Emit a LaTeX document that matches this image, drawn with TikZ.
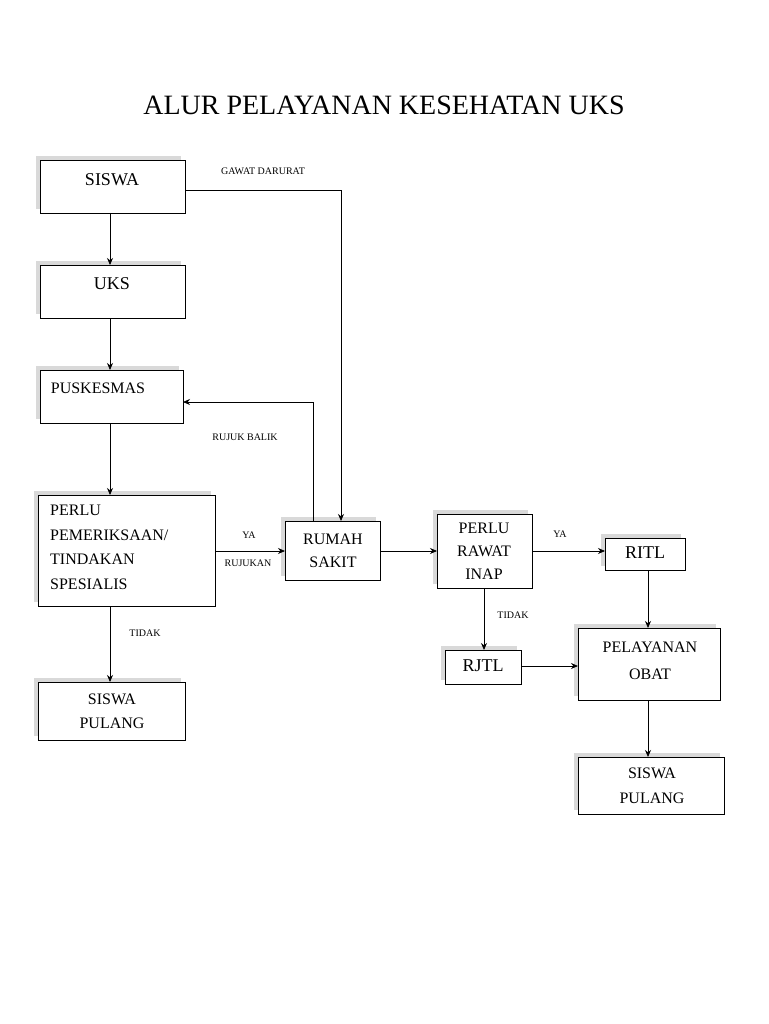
\documentclass[tikz,border=0pt]{standalone}
\usepackage{fontspec}
\setmainfont{Liberation Serif}
\usetikzlibrary{arrows.meta}
\begin{document}
\begin{tikzpicture}[x=1pt,y=-1pt,
  box/.style={draw=black,fill=white,line width=0.9pt},
  shadow/.style={fill=black!15},
  txt/.style={font=\fontsize{18}{22}\selectfont,inner sep=0pt,align=center},
  lbl/.style={font=\fontsize{10}{12}\selectfont,inner sep=0pt},
  arr/.style={-{Stealth[length=7pt,width=6pt]},line width=0.8pt}]
\useasboundingbox (0,0) rectangle (768,1024);
\node[font=\fontsize{28}{32}\selectfont,inner sep=0pt] (title) at (384,105) {ALUR PELAYANAN KESEHATAN UKS};
% boxes via macro-like repeated commands
\newcommand\mybox[5]{\fill[shadow] (#1-4,#2-4) rectangle (#3-4,#4-4);
  \draw[box] (#1,#2) rectangle (#3,#4); \coordinate (#5) at (#1,#2);}
\mybox{40}{160}{185}{213}{a}
\mybox{40}{265}{185}{318}{b}
\mybox{40}{370}{183}{423}{c}
\mybox{38}{495}{215}{606}{d}
\mybox{38}{682}{185}{740}{e}
\mybox{285}{521}{380}{580}{f}
\mybox{437}{514}{532}{588}{g}
\mybox{605}{538}{685}{570}{h}
\mybox{578}{628}{720}{700}{i}
\mybox{445}{650}{521}{684}{j}
\mybox{578}{757}{724}{814}{k}
\node[txt] (siswa) at (112,180) {SISWA};
\node[txt] (uks) at (112,284) {UKS};
\node[txt,font=\fontsize{16}{20}\selectfont] (pusk) at (98,388) {PUSKESMAS};
\node[txt,align=left,anchor=north west,font=\fontsize{16}{24.5}\selectfont] (perlu) at (50,505) {PERLU\\PEMERIKSAAN/\\TINDAKAN\\SPESIALIS};
\node[txt,font=\fontsize{16}{24}\selectfont] (sp1) at (112,711) {SISWA\\PULANG};
\node[txt,font=\fontsize{16}{23}\selectfont] (rs) at (333,551) {RUMAH\\SAKIT};
\node[txt,font=\fontsize{16}{23}\selectfont] (pri) at (484,551) {PERLU\\RAWAT\\INAP};
\node[txt] (ritl) at (645,553) {RITL};
\node[txt,font=\fontsize{16}{27}\selectfont] (po) at (650,661) {PELAYANAN\\OBAT};
\node[txt] (rjtl) at (483,666) {RJTL};
\node[txt,font=\fontsize{16}{25}\selectfont] (sp2) at (652,786) {SISWA\\PULANG};
\coordinate (a1) at (110,213); \coordinate (b0) at (110,265);
\coordinate (b1) at (110,318); \coordinate (c0) at (110,370);
\coordinate (c1) at (110,423); \coordinate (d0) at (110,495);
\coordinate (d1) at (110,606); \coordinate (e0) at (110,682);
\coordinate (d2) at (215,551); \coordinate (f0) at (285,551);
\coordinate (a2) at (185,190); \coordinate (f1) at (341,521);
\coordinate (f2) at (313,521); \coordinate (c2) at (183,402);
\coordinate (f3) at (380,551); \coordinate (g0) at (437,551);
\coordinate (g1) at (532,551); \coordinate (h0) at (605,551);
\coordinate (g2) at (484,588); \coordinate (j0) at (484,650);
\coordinate (h1) at (648,570); \coordinate (i0) at (648,628);
\coordinate (j1) at (521,666); \coordinate (i1) at (578,666);
\coordinate (i2) at (648,700); \coordinate (k0) at (648,757);
\draw[arr] (a1) -- (b0);
\draw[arr] (b1) -- (c0);
\draw[arr] (c1) -- (d0);
\draw[arr] (d1) -- (e0);
\draw[arr] (d2) -- (f0);
\draw[arr] (a2) -| (f1);
\draw[arr] (f2) |- (c2);
\draw[arr] (f3) -- (g0);
\draw[arr] (g1) -- (h0);
\draw[arr] (g2) -- (j0);
\draw[arr] (h1) -- (i0);
\draw[arr] (j1) -- (i1);
\draw[arr] (i2) -- (k0);
\node[lbl] (l1) at (263,171) {GAWAT DARURAT};
\node[lbl] (l2) at (245,437) {RUJUK BALIK};
\node[lbl] (l3) at (249,535) {YA};
\node[lbl] (l4) at (248,563) {RUJUKAN};
\node[lbl] (l5) at (145,633) {TIDAK};
\node[lbl] (l6) at (560,534) {YA};
\node[lbl] (l7) at (513,615) {TIDAK};
\end{tikzpicture}
\end{document}
